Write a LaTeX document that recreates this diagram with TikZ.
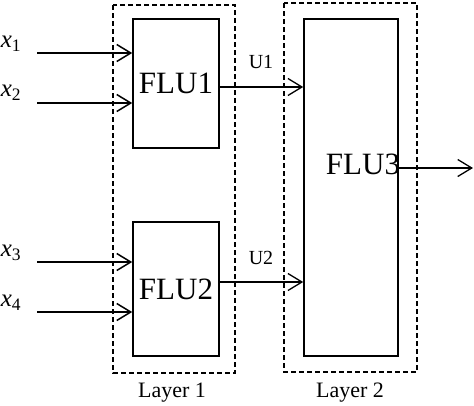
\documentclass[tikz,border=0pt]{standalone}
\usepackage{fontspec}
\setmainfont{Liberation Serif}
\usetikzlibrary{arrows.meta}

\tikzset{
  flubox/.style={draw, line width=1.6pt, inner sep=0pt},
  layerbox/.style={draw, line width=1.3pt, dash pattern=on 5pt off 3pt},
  inarrow/.style={line width=1.8pt, -{Straight Barb[length=14pt, width=17pt, line width=1.5pt]}},
  uarrow/.style={line width=1.3pt, -{Straight Barb[length=14pt, width=17pt, line width=1.3pt]}}
}

\begin{document}
\begin{tikzpicture}[x=1pt, y=-1pt]
  \useasboundingbox (0,0) rectangle (474,405);
  % layers
  \draw[layerbox] (113,5) rectangle (235,373);
  \draw[layerbox] (284,3) rectangle (417,372);
  \node (lay1) at (172,393) {\fontsize{22}{24}\selectfont Layer 1};
  \node (lay2) at (350,393) {\fontsize{22}{24}\selectfont Layer 2};

  % units
  \node[flubox, minimum width=86pt, minimum height=129pt] (flu1) at (176,83.5) {\fontsize{31}{33}\selectfont FLU1};
  \node[flubox, minimum width=86pt, minimum height=134pt] (flu2) at (176,289) {\fontsize{31}{33}\selectfont FLU2};
  \node[flubox, minimum width=94pt, minimum height=337pt] (flu3) at (351,187.5) {};
  \node (flu3txt) at (363,164) {\fontsize{31}{33}\selectfont FLU3};

  % inputs
  \coordinate (in1) at (37,53);
  \coordinate (in2) at (37,103);
  \coordinate (in3) at (37,262);
  \coordinate (in4) at (37,312);
  \node (lx1) at (11,44) {\fontsize{25}{27}\selectfont\itshape x\textsubscript{\upshape 1}};
  \node (lx2) at (11,93) {\fontsize{25}{27}\selectfont\itshape x\textsubscript{\upshape 2}};
  \node (lx3) at (11,253) {\fontsize{25}{27}\selectfont\itshape x\textsubscript{\upshape 3}};
  \node (lx4) at (11,303) {\fontsize{25}{27}\selectfont\itshape x\textsubscript{\upshape 4}};
  \draw[inarrow] (in1) -- (in1 -| flu1.west);
  \draw[inarrow] (in2) -- (in2 -| flu1.west);
  \draw[inarrow] (in3) -- (in3 -| flu2.west);
  \draw[inarrow] (in4) -- (in4 -| flu2.west);

  % layer 1 to layer 2
  \coordinate (u1) at ([yshift=-3.5pt]flu1.east);
  \coordinate (u2) at ([yshift=7pt]flu2.east);
  \draw[uarrow] (u1) -- (u1 -| flu3.west);
  \draw[uarrow] (u2) -- (u2 -| flu3.west);
  \node (lu1) at (261,62) {\fontsize{20}{22}\selectfont U1};
  \node (lu2) at (261,258) {\fontsize{20}{22}\selectfont U2};

  % output
  \coordinate (out) at (473,168);
  \draw[uarrow] (flu3.east |- out) -- (out);
\end{tikzpicture}
\end{document}
